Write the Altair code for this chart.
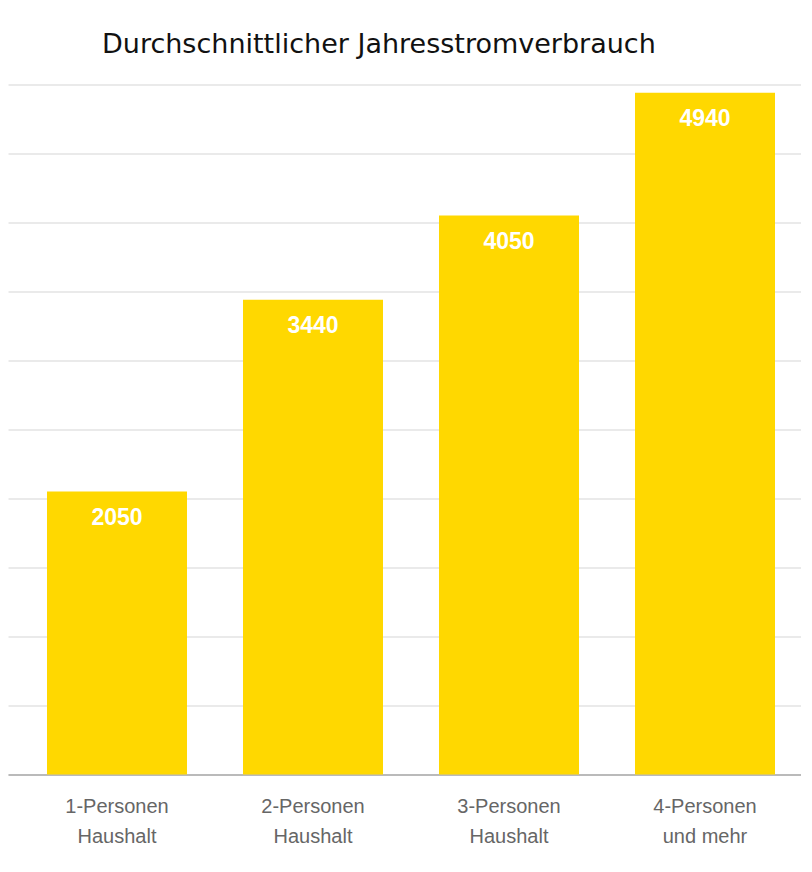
import altair as alt
import pandas as pd

categories = ["1-Personen\nHaushalt", "2-Personen\nHaushalt", "3-Personen\nHaushalt", "4-Personen\nund mehr"]
values = [2050, 3440, 4050, 4940]
grid_values = [0, 500, 1000, 1500, 2000, 2500, 3000, 3500, 4000, 4500, 5000]

df = pd.DataFrame({"cat": categories, "val": values})

x = alt.X("cat:N", sort=categories, title=None,
          scale=alt.Scale(paddingInner=0.2857, paddingOuter=0.1658, align=0.6),
          axis=alt.Axis(labelAngle=0, labelExpr="split(datum.label, '\\n')",
                        labelFont="Liberation Sans", labelFontSize=20, labelColor="#666666",
                        labelLineHeight=30, labelPadding=22, ticks=False,
                        domainColor="#aaaaaa", domainWidth=1.5, grid=False))
y = alt.Y("val:Q", title=None,
          scale=alt.Scale(domain=[0, 5000], nice=False),
          axis=alt.Axis(values=grid_values, labels=False, ticks=False, domain=False,
                        grid=True, gridColor="#e3e3e3", gridWidth=1.5))

bars = alt.Chart(df).mark_bar(color="#FFD800").encode(x=x, y=y)
labels = alt.Chart(df).mark_text(color="white", font="Liberation Sans", fontWeight="bold",
                                 fontSize=23, baseline="alphabetic", dy=33).encode(
    x=alt.X("cat:N", sort=categories), y="val:Q", text="val:Q")

chart = alt.layer(bars, labels).properties(
    width=793, height=690,
    title=alt.TitleParams("Durchschnittlicher Jahresstromverbrauch", anchor="start", dx=94,
                          font="DejaVu Sans", fontSize=27, fontWeight="normal",
                          color="#111111", offset=25.5),
    padding={"left": 0, "top": 22.5, "right": 0, "bottom": 0},
).configure_view(stroke=None)

chart.save("out.html", embed_options={"renderer": "svg", "actions": False})
